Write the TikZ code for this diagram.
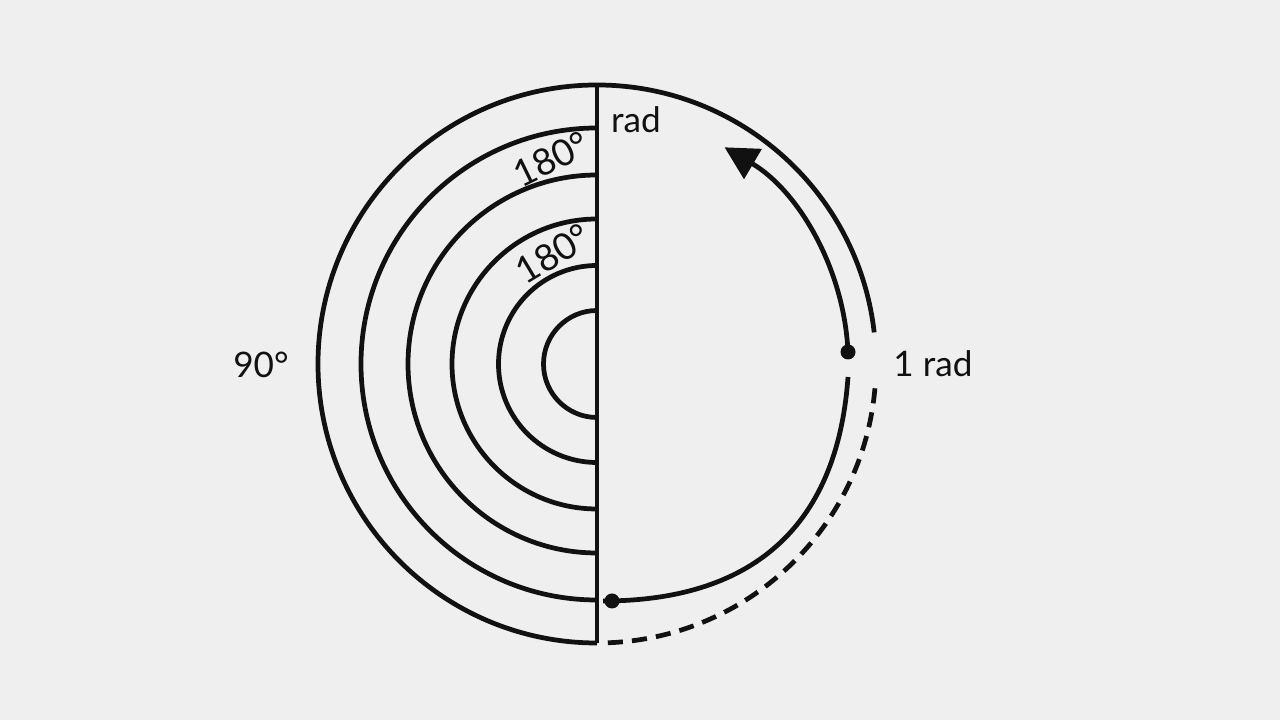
\documentclass[tikz,border=0pt]{standalone}
\usepackage{fontspec}
\setmainfont{Lato}
\usetikzlibrary{arrows.meta}
\definecolor{bg}{RGB}{239,239,239}
\definecolor{ink}{RGB}{17,17,17}
\begin{document}
\begin{tikzpicture}[
  line width=1.35pt, draw=ink,
  lbl/.style={font=\fontsize{10pt}{12pt}\selectfont, text=ink, inner sep=0pt},
  deg/.style={font=\fontsize{10.5pt}{12pt}\selectfont, text=ink, inner sep=0pt},
  dotnode/.style={circle, fill=ink, draw=none, inner sep=0pt, minimum size=0.15cm},
  dashline/.style={dash pattern=on 4.3pt off 2.6pt},
]
\fill[bg] (-5.97,-3.56) rectangle (6.83,3.64);
\useasboundingbox (-5.97,-3.56) rectangle (6.83,3.64);
% left half rings
\foreach \r in {2.79,2.36,1.89,1.45,0.985,0.535}{
  \draw[ink] (0,\r) arc[start angle=90,end angle=270,radius=\r];
}
% vertical divider
\coordinate (top) at (0,2.79);
\coordinate (bot) at (0,-2.79);
\draw[ink] (top) -- (bot);
% right outer arc, solid then dashed
\draw[ink] (top) arc[start angle=90,end angle=6.5,radius=2.79];
\draw[ink, dashline] (-5:2.79) arc[start angle=-5,end angle=-88,radius=2.79];
% inner arc with arrow
\coordinate (p1) at (2.51,0.12);
\draw[ink, -{Triangle[length=0.33cm,width=0.34cm]}] (p1) arc[start angle=2.7,end angle=59.5,radius=2.513];
% lower inner curve
\coordinate (p2) at (2.51,-0.13);
\coordinate (p3) at (0.06,-2.37);
\draw[ink] (p2) .. controls (2.40,-1.68) and (1.50,-2.37) .. (p3);
\node[dotnode] (d1) at (p1) {};
\node[dotnode] (d2) at (0.15,-2.37) {};
% labels
\node[lbl] (rad) at (0.39,2.44) {rad};
\node[deg, rotate=26] (t1) at (-0.46,2.05) {180°};
\node[deg, rotate=31] (t2) at (-0.44,1.10) {180°};
\node[lbl] (n90) at (-3.36,-0.01) {90°};
\node[lbl] (onerad) at (3.36,0.0) {1 rad};
\end{tikzpicture}
\end{document}
